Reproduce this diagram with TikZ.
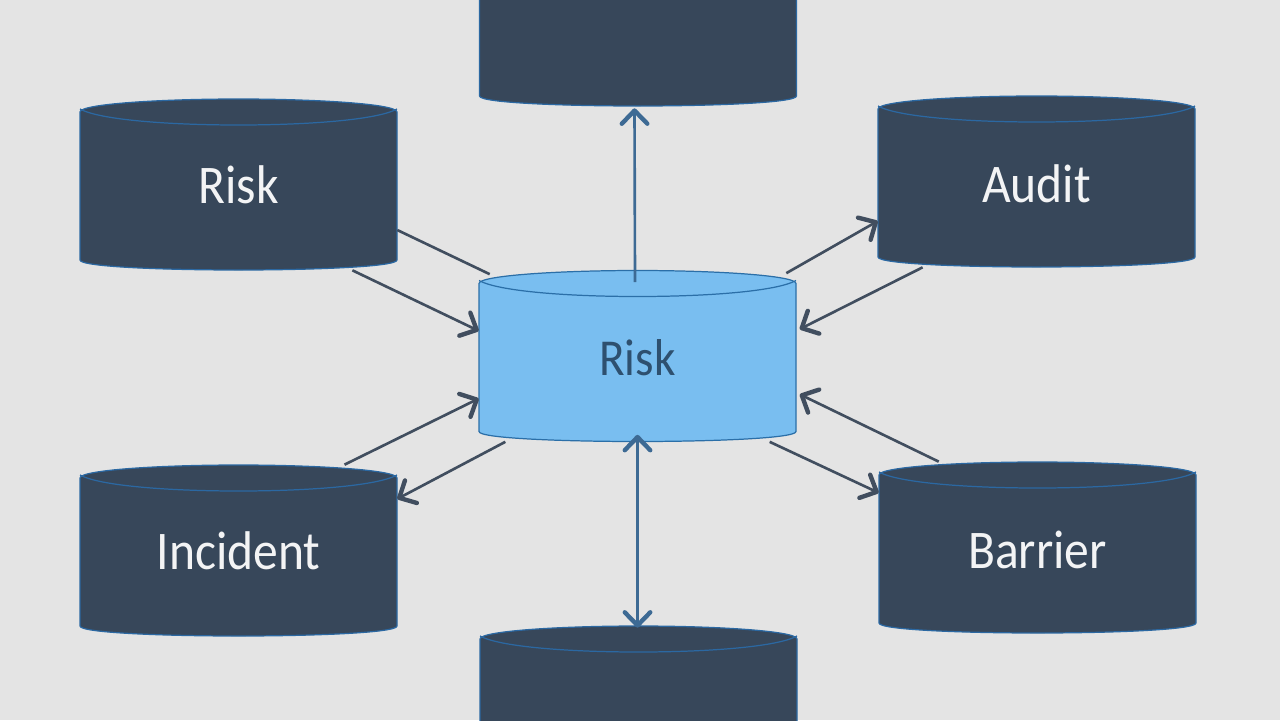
\documentclass[tikz,border=0pt]{standalone}
\usepackage{fontspec}
\setmainfont{Carlito}[FakeStretch=0.91]
\usetikzlibrary{arrows.meta,calc}
\definecolor{paper}{HTML}{E4E4E4}
\definecolor{drumdark}{HTML}{37475A}
\definecolor{drumedge}{HTML}{2B68A2}
\definecolor{drumlight}{HTML}{79BEF0}
\definecolor{lightedge}{HTML}{2B6FA8}
\definecolor{linkdark}{HTML}{414E5F}
\definecolor{linkblue}{HTML}{3D6A94}
\tikzset{
  barb/.tip={Straight Barb[length=7.5pt,width=14.5pt,line width=2.5pt,round]},
  drumbody/.style={line width=0.7pt,line join=round},
  drumlabel/.style={rectangle,minimum width=6.34cm,minimum height=3.42cm,inner sep=0pt,font=\fontsize{31}{31}\selectfont},
  link/.style={line width=1.5pt,linkdark,-barb},
  linkplain/.style={line width=1.5pt,linkdark},
  linkup/.style={line width=1.5pt,linkblue},
}
\newcommand{\drumpath}{(0,13) .. controls (0,5) and (80,0) .. (158.5,0) .. controls (237,0) and (317,5) .. (317,13) -- (317,161) .. controls (317,168) and (230,171) .. (158.5,171) .. controls (87,171) and (0,168) .. (0,161) -- cycle}
\newcommand{\drumfront}{(0,10) .. controls (20,21) and (90,26) .. (158.5,26) .. controls (227,26) and (297,21) .. (317,10)}
\begin{document}
\begin{tikzpicture}[x=0.02cm,y=-0.02cm]
    \useasboundingbox (0,0) rectangle (1280,720);
    \fill[paper] (0,0) rectangle (1280,720);
    \clip (0,0) rectangle (1280,720);
    % dark drums
    \foreach \u/\v/\z/\w/\d in {80/99/riskdrum/Risk/11pt,878/96/auditdrum/Audit/12.2pt,80/465/incidentdrum/Incident/11pt,879/462/barrierdrum/Barrier/12.2pt,479.5/-65/topdrum/{}/0pt,480/626/bottomdrum/{}/0pt} {
        \begin{scope}[shift={(\u,\v)}]
            \draw[drumbody,drumedge,fill=drumdark] \drumpath;
            \draw[drumbody,drumedge] \drumfront;
            \node[drumlabel,text=white!94!drumdark] (\z) at (158.5,85.5) {\raisebox{-\d}[0pt][0pt]{\w}};
        \end{scope}
    }
    % middle drum
    \begin{scope}[shift={(479,270.5)}]
        \draw[drumbody,lightedge,fill=drumlight] \drumpath;
        \draw[drumbody,lightedge] \drumfront;
        \node[drumlabel,text=linkblue!75!black,font=\fontsize{29.5}{29.5}\selectfont] (middledrum) at (158.5,85.5) {\raisebox{-11.3pt}[0pt][0pt]{Risk}};
    \end{scope}
    % links
    \draw[linkplain] (riskdrum.-16.4)--($(middledrum.north west)+(11,4)$);
    \draw[link] (riskdrum.-37)--(middledrum.171);
    \draw[linkup,-barb] ($(middledrum.north)+(-2.5,12)$)--($(topdrum.south)+(-3.5,2)$);
    \draw[link] ($(middledrum.north east)+(-10,3)$)--(auditdrum.194.3);
    \draw[link,shorten >=2.2pt] (auditdrum.217)--(middledrum.9.1);
    \draw[link] (incidentdrum.39.6)--(middledrum.195.7);
    \draw[link] (middledrum.213.5)--(incidentdrum.18.1);
    \draw[linkup,barb-barb] ($(middledrum.south)+(0,-7)$)--($(bottomdrum.north)+(-1,2)$);
    \draw[link] (middledrum.-33.5)--(barrierdrum.161.8);
    \draw[link,shorten >=2.2pt] (barrierdrum.139.4)--(middledrum.-13.65);
\end{tikzpicture}
\end{document}
